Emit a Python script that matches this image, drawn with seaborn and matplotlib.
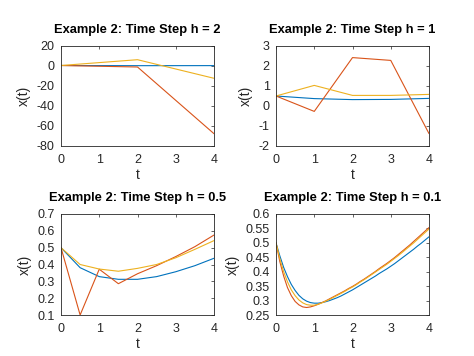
import numpy as np
import pandas as pd
import matplotlib
matplotlib.use("Agg")
import matplotlib.pyplot as plt
import seaborn as sns

# ---- data ----
t_h2 = [0, 2, 4]
blue_h2 = [0.5, 0.32, 0.38]
red_h2 = [0.5, -1.0, -67.7]
yellow_h2 = [0.5, 6.3, -12.3]

t_h1 = [0, 1, 2, 3, 4]
blue_h1 = [0.5, 0.37, 0.32, 0.33, 0.38]
red_h1 = [0.5, -0.27, 2.42, 2.28, -1.38]
yellow_h1 = [0.5, 1.03, 0.53, 0.53, 0.58]

t_h05 = [0, 0.5, 1, 1.5, 2, 2.5, 3, 3.5, 4]
blue_h05 = [0.5, 0.381, 0.328, 0.312, 0.312, 0.328, 0.357, 0.393, 0.437]
red_h05 = [0.5, 0.1, 0.372, 0.286, 0.345, 0.393, 0.447, 0.506, 0.575]
yellow_h05 = [0.5, 0.40, 0.373, 0.36, 0.377, 0.40, 0.44, 0.49, 0.542]

t_h01 = [0.0, 0.1, 0.2, 0.3, 0.4, 0.5, 0.6, 0.7, 0.8, 0.9,
         1.0, 1.1, 1.2, 1.3, 1.4, 1.5, 1.6, 1.7, 1.8, 1.9,
         2.0, 2.1, 2.2, 2.3, 2.4, 2.5, 2.6, 2.7, 2.8, 2.9,
         3.0, 3.1, 3.2, 3.3, 3.4, 3.5, 3.6, 3.7, 3.8, 3.9, 4.0]
blue_h01 = [0.500, 0.455, 0.415, 0.383, 0.356, 0.335, 0.318, 0.306, 0.298, 0.293,
            0.291, 0.291, 0.293, 0.296, 0.300, 0.305, 0.310, 0.316, 0.323, 0.330,
            0.337, 0.345, 0.353, 0.361, 0.369, 0.377, 0.385, 0.394, 0.402, 0.410,
            0.419, 0.428, 0.438, 0.448, 0.458, 0.468, 0.478, 0.489, 0.499, 0.510, 0.521]
red_h01 = [0.500, 0.435, 0.385, 0.345, 0.317, 0.297, 0.285, 0.278, 0.276, 0.278,
           0.282, 0.287, 0.293, 0.299, 0.306, 0.313, 0.320, 0.327, 0.334, 0.342,
           0.349, 0.357, 0.366, 0.374, 0.383, 0.392, 0.401, 0.411, 0.420, 0.429,
           0.439, 0.449, 0.460, 0.471, 0.482, 0.493, 0.505, 0.517, 0.529, 0.541, 0.553]
yellow_h01 = [0.500, 0.445, 0.400, 0.365, 0.337, 0.317, 0.302, 0.292, 0.286, 0.284,
              0.284, 0.287, 0.292, 0.298, 0.304, 0.311, 0.318, 0.325, 0.332, 0.340,
              0.347, 0.355, 0.364, 0.372, 0.381, 0.390, 0.399, 0.408, 0.417, 0.426,
              0.436, 0.446, 0.456, 0.467, 0.478, 0.489, 0.500, 0.512, 0.524, 0.536, 0.548]

titles = ["Example 2: Time Step h = 2", "Example 2: Time Step h = 1",
          "Example 2: Time Step h = 0.5", "Example 2: Time Step h = 0.1"]
ylims = [(-80, 20), (-2, 3), (0.1, 0.7), (0.25, 0.6)]
yticks = [[-80, -60, -40, -20, 0, 20], [-2, -1, 0, 1, 2, 3],
          [0.1, 0.2, 0.3, 0.4, 0.5, 0.6, 0.7],
          [0.25, 0.3, 0.35, 0.4, 0.45, 0.5, 0.55, 0.6]]
yticklabels = [["-80", "-60", "-40", "-20", "0", "20"],
               ["-2", "-1", "0", "1", "2", "3"],
               ["0.1", "0.2", "0.3", "0.4", "0.5", "0.6", "0.7"],
               ["0.25", "0.3", "0.35", "0.4", "0.45", "0.5", "0.55", "0.6"]]
xticks = [0, 1, 2, 3, 4]

panels = [
    (t_h2, blue_h2, red_h2, yellow_h2),
    (t_h1, blue_h1, red_h1, yellow_h1),
    (t_h05, blue_h05, red_h05, yellow_h05),
    (t_h01, blue_h01, red_h01, yellow_h01),
]

sns.set_theme(style="white")
plt.rcParams['font.family'] = ['Liberation Sans', 'DejaVu Sans']

C_BLUE = (0.0, 0.447, 0.741)
C_RED = (0.850, 0.325, 0.098)
C_YEL = (0.929, 0.694, 0.125)
AXC = (0.15, 0.15, 0.15)

W, H = 474, 356
fig = plt.figure(figsize=(W / 100, H / 100), dpi=100)
fig.patch.set_facecolor("white")

boxes = [(61, 46, 214, 146), (276, 46, 429, 146),
         (61, 214, 214, 315), (276, 214, 429, 315)]

for i, (t, b, r, y) in enumerate(panels):
    x0, y0, x1, y1 = boxes[i]
    ax = fig.add_axes([x0 / W, 1 - y1 / H, (x1 - x0) / W, (y1 - y0) / H])
    df = pd.DataFrame({"t": t, "blue": b, "red": r, "yellow": y})
    for col, c in (("blue", C_BLUE), ("red", C_RED), ("yellow", C_YEL)):
        sns.lineplot(data=df, x="t", y=col, color=c, lw=0.8, ax=ax,
                     estimator=None, sort=False, legend=False)
    ax.set_xlim(0, 4)
    ax.set_ylim(*ylims[i])
    ax.set_xticks(xticks)
    ax.set_xticklabels([str(v) for v in xticks])
    ax.set_yticks(yticks[i])
    ax.set_yticklabels(yticklabels[i])
    ax.set_title(titles[i], fontsize=9.3, fontweight="bold", color="black", pad=9.5)
    ax.set_xlabel("t", fontsize=10, color=AXC, labelpad=1)
    ax.set_ylabel("x(t)", fontsize=10, color=AXC, labelpad=4)
    ax.tick_params(direction="in", length=2.5, width=0.5, colors=AXC,
                   labelsize=9, top=True, right=True)
    ax.tick_params(axis="x", pad=6)
    ax.tick_params(axis="y", pad=4.5)
    for s in ax.spines.values():
        s.set_color(AXC)
        s.set_linewidth(0.6)
        s.set_visible(True)
    ax.set_facecolor("white")

fig.savefig("out.png", dpi=100, facecolor="white")
